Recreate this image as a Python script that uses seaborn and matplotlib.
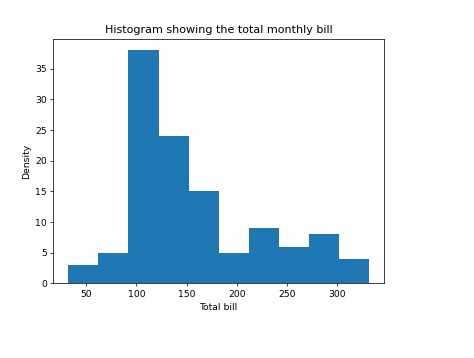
import numpy as np
import seaborn as sns
import matplotlib.pyplot as plt

# histogram values
bin_edges = [32, 62, 92, 122, 152, 182, 212, 242, 272, 302, 332]
bin_counts = [3, 5, 38, 24, 15, 5, 9, 6, 8, 4]

bin_centers = [(a + b) / 2 for a, b in zip(bin_edges[:-1], bin_edges[1:])]

# original plot was a default 640x480 figure scaled down into a 474x358 canvas
fig = plt.figure(figsize=(474 / 66.4, 358 / 66.4), dpi=66.4)
ax = fig.add_axes([0.1125, 0.2085, 0.6975, 0.6835])

sns.histplot(
    x=bin_centers,
    weights=bin_counts,
    bins=bin_edges,
    color='#1f77b4',
    alpha=1,
    linewidth=0,
    ax=ax
)

ax.set_title('Histogram showing the total monthly bill')
ax.set_xlabel('Total bill')
ax.set_ylabel('Density')

plt.savefig('out.png', dpi=66.4)
plt.close('all')
